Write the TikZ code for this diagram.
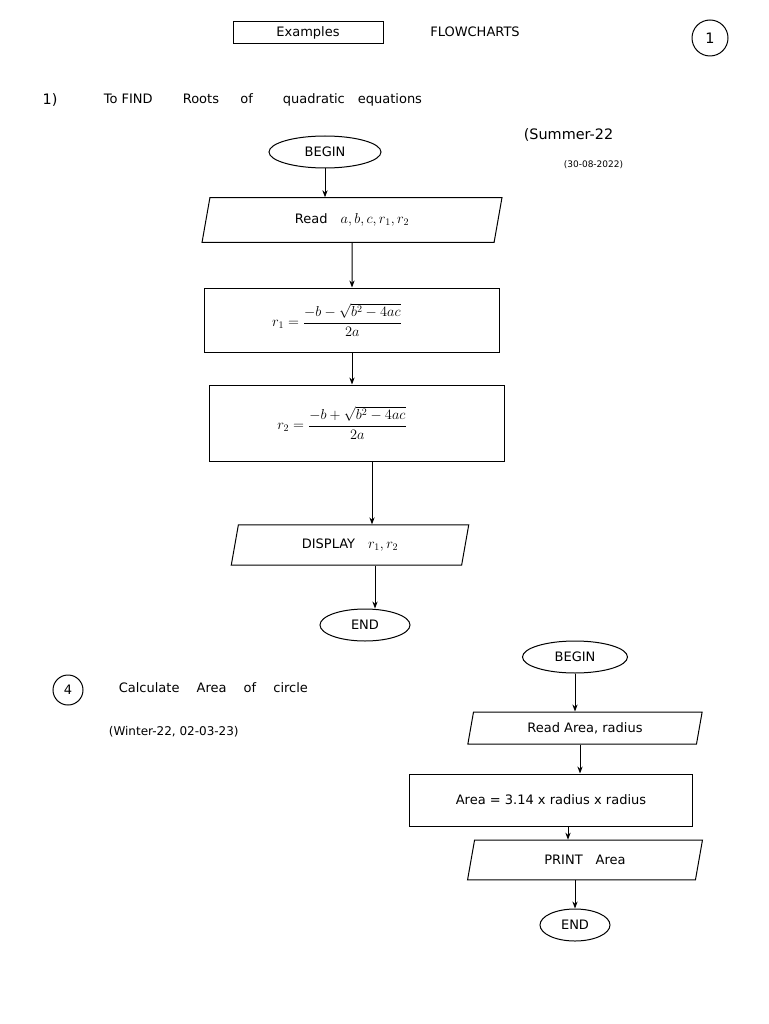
\documentclass[tikz,border=0pt]{standalone}
\usepackage{fontspec}
\setmainfont{DejaVu Sans}
\usetikzlibrary{shapes.geometric,arrows.meta}
\begin{document}
\begin{tikzpicture}[x=1pt,y=-1pt,font=\fontsize{13}{15}\selectfont,
  line width=1pt,
  term/.style={draw,ellipse,minimum width=#1,minimum height=32pt,inner sep=1pt},
  io/.style={draw,trapezium,trapezium left angle=80,trapezium right angle=100,inner sep=3pt},
  proc/.style={draw,rectangle,inner sep=4pt},
  arr/.style={-{Stealth[length=7pt]}}]
\useasboundingbox (0,0) rectangle (768,1024);
\fill[white] (0,0) rectangle (768,1024);
% header
\node[draw,minimum width=150pt,minimum height=22pt] (hdr) at (308,33) {Examples};
\node (fc) at (475,32) {FLOWCHARTS};
\node[draw,circle,minimum size=36pt] (one) at (710,38) {\Large 1};
\node (n1) at (50,100) {\Large 1)};
\node[anchor=west] (t1) at (100,100) {To FIND \qquad Roots \quad\ of \qquad quadratic\quad equations};
\node[anchor=west] (s1) at (520,135) {\Large (Summer-22};
\node[anchor=west] (s2) at (560,165) {\small (30-08-2022)};
% chart 1
\node[term=112pt] (b1) at (325,152) {BEGIN};
\node[io,minimum width=300pt,minimum height=34pt] (r1) at (352,220) {Read\quad {\Large $a, b, c, r_1, r_2$}\hspace{50pt}};
\node[proc,minimum width=295pt,minimum height=64pt] (p1) at (352,320) {\hspace{-30pt}\Large$\displaystyle r_1 = \frac{-b-\sqrt{b^2-4ac}}{2a}$};
\node[proc,minimum width=295pt,minimum height=76pt] (p2) at (357,423) {\hspace{-30pt}\Large$\displaystyle r_2 = \frac{-b+\sqrt{b^2-4ac}}{2a}$};
\node[io,minimum width=238pt,minimum height=34pt] (d1) at (350,545) {DISPLAY\quad {\Large $r_1, r_2$}\hspace{30pt}};
\node[term=90pt] (e1) at (365,625) {END};
\draw[arr] (b1) -- (b1|-r1.north);
\draw[arr] (r1) -- (r1|-p1.north);
\draw[arr] (p1) -- (p1|-p2.north);
\draw[arr] (p2.south) ++(15,0) coordinate (c2) -- (c2|-d1.north);
\draw[arr] (d1.south) ++(25,0) coordinate (c3) -- (c3|-e1.north);
% chart 2
\node[draw,circle,minimum size=30pt] (four) at (68,690) {4};
\node[anchor=west] (t2) at (115,688) {Calculate \quad Area \quad of \quad circle};
\node[anchor=west] (t3) at (105,732) {\large (Winter-22, 02-03-23)};
\node[term=105pt] (b2) at (575,657) {BEGIN};
\node[io,minimum width=190pt,minimum height=32pt] (r2) at (585,728) {Read Area, radius};
\node[proc,minimum width=283pt,minimum height=52pt] (p3) at (551,800) {Area = 3.14 x radius x radius};
\node[io,minimum width=235pt,minimum height=36pt] (d2) at (585,860) {PRINT\quad Area\hspace{40pt}};
\node[term=70pt] (e2) at (575,925) {END};
\draw[arr] (b2) -- (b2|-r2.north);
\draw[arr] (r2.south) ++(-5,0) coordinate (c4) -- (c4|-p3.north);
\draw[arr] (p3.south) ++(17,0) coordinate (c5) -- (c5|-d2.north);
\draw[arr] (d2.south) ++(-10,0) coordinate (c6) -- (c6|-e2.north);
\end{tikzpicture}
\end{document}
